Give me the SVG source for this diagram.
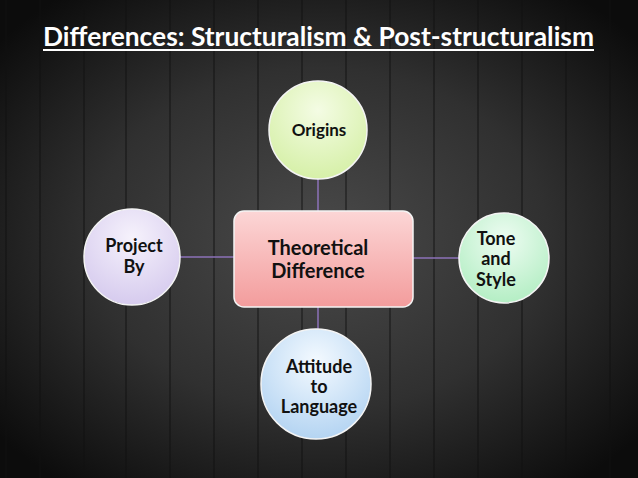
<svg xmlns="http://www.w3.org/2000/svg" width="638" height="478" viewBox="0 0 638 478">
<defs>
<radialGradient id="bg" cx="0.5" cy="0.5" r="0.65">
<stop offset="0" stop-color="#4a4a4a"/>
<stop offset="0.55" stop-color="#303030"/>
<stop offset="1" stop-color="#0c0c0c"/>
</radialGradient>
<linearGradient id="gPink" x1="0" y1="0" x2="0" y2="1">
<stop offset="0" stop-color="#fcd6d6"/>
<stop offset="1" stop-color="#f39c9c"/>
</linearGradient>
<radialGradient id="gGreenY" cx="0.5" cy="0.3" r="0.7">
<stop offset="0" stop-color="#f4fce4"/>
<stop offset="1" stop-color="#d6f0a8"/>
</radialGradient>
<radialGradient id="gLav" cx="0.5" cy="0.3" r="0.7">
<stop offset="0" stop-color="#f6f2fc"/>
<stop offset="1" stop-color="#d6cbee"/>
</radialGradient>
<radialGradient id="gMint" cx="0.5" cy="0.3" r="0.7">
<stop offset="0" stop-color="#eefcf2"/>
<stop offset="1" stop-color="#b4eec4"/>
</radialGradient>
<radialGradient id="gBlue" cx="0.5" cy="0.3" r="0.7">
<stop offset="0" stop-color="#f4faff"/>
<stop offset="1" stop-color="#b4d4f2"/>
</radialGradient>
</defs>
<style>
.plank{stroke:#111111;stroke-width:2;opacity:0.45}
.conn{stroke:#8c72b8;stroke-width:1.5;fill:none}
.shape{stroke:#f4f4f4;stroke-width:1.5}
.lbl{font-family:Lato,"Open Sans","Liberation Sans",sans-serif;font-weight:700;fill:#111;text-anchor:middle}
.title{font-family:Lato,"Open Sans","Liberation Sans",sans-serif;font-weight:700;fill:#ffffff;font-size:26px}
</style>
<rect x="0" y="0" width="638" height="478" fill="url(#bg)"/>
<g id="planks">
<line class="plank" x1="6" y1="0" x2="6" y2="478"/>
<line class="plank" x1="40" y1="0" x2="40" y2="478"/>
<line class="plank" x1="84" y1="0" x2="84" y2="478"/>
<line class="plank" x1="126" y1="0" x2="126" y2="478"/>
<line class="plank" x1="170" y1="0" x2="170" y2="478"/>
<line class="plank" x1="214" y1="0" x2="214" y2="478"/>
<line class="plank" x1="258" y1="0" x2="258" y2="478"/>
<line class="plank" x1="302" y1="0" x2="302" y2="478"/>
<line class="plank" x1="346" y1="0" x2="346" y2="478"/>
<line class="plank" x1="390" y1="0" x2="390" y2="478"/>
<line class="plank" x1="434" y1="0" x2="434" y2="478"/>
<line class="plank" x1="478" y1="0" x2="478" y2="478"/>
<line class="plank" x1="522" y1="0" x2="522" y2="478"/>
<line class="plank" x1="566" y1="0" x2="566" y2="478"/>
<line class="plank" x1="610" y1="0" x2="610" y2="478"/>
</g>
<g id="title">
<text class="title" x="43" y="46" textLength="551" lengthAdjust="spacingAndGlyphs">Differences: Structuralism &amp; Post-structuralism</text>
<line x1="43" y1="50" x2="594" y2="50" stroke="#ffffff" stroke-width="2"/>
</g>
<g id="connectors">
<line class="conn" x1="318" y1="179" x2="318" y2="211"/>
<line class="conn" x1="179" y1="257" x2="235" y2="257"/>
<line class="conn" x1="412" y1="258" x2="460" y2="258"/>
<line class="conn" x1="318" y1="306" x2="318" y2="329"/>
</g>
<g id="center">
<rect class="shape" x="234" y="211" width="179" height="96" rx="10" fill="url(#gPink)"/>
<text class="lbl" x="318" y="255" font-size="20">Theoretical</text>
<text class="lbl" x="318" y="278" font-size="20">Difference</text>
</g>
<g id="origins">
<circle class="shape" cx="318" cy="130" r="49" fill="url(#gGreenY)"/>
<text class="lbl" x="319" y="136" font-size="17">Origins</text>
</g>
<g id="project">
<circle class="shape" cx="132" cy="257" r="48" fill="url(#gLav)"/>
<text class="lbl" x="134" y="252" font-size="18">Project</text>
<text class="lbl" x="134" y="273" font-size="18">By</text>
</g>
<g id="tone">
<circle class="shape" cx="504" cy="258" r="45" fill="url(#gMint)"/>
<text class="lbl" x="496" y="245" font-size="18">Tone</text>
<text class="lbl" x="496" y="265" font-size="18">and</text>
<text class="lbl" x="496" y="286" font-size="18">Style</text>
</g>
<g id="attitude">
<circle class="shape" cx="316" cy="384" r="55" fill="url(#gBlue)"/>
<text class="lbl" x="319" y="373" font-size="18">Attitude</text>
<text class="lbl" x="319" y="393" font-size="18">to</text>
<text class="lbl" x="319" y="413" font-size="18">Language</text>
</g>
</svg>
